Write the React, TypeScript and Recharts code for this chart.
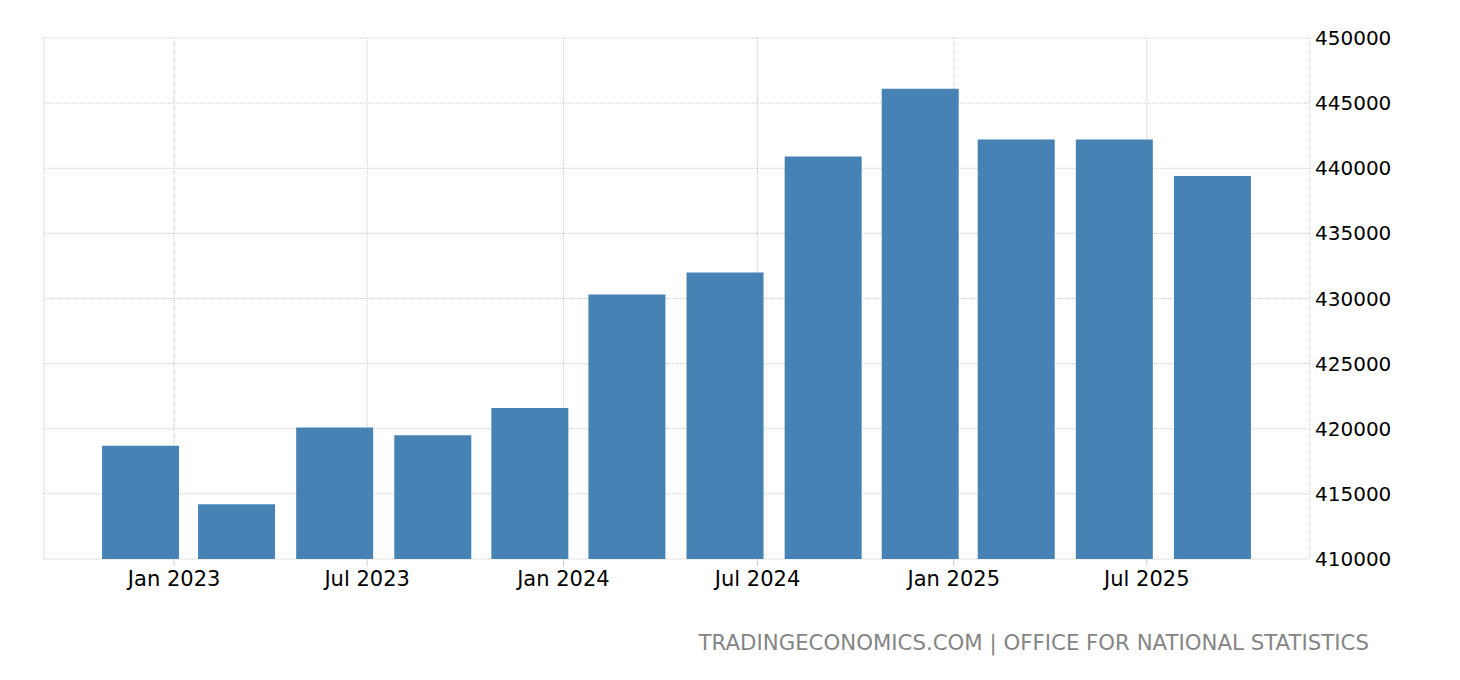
import React from 'react';
import { BarChart, Bar, XAxis, YAxis, CartesianGrid } from 'recharts';

const dates = [
  '2022-12-01', '2023-03-01', '2023-06-01', '2023-09-01',
  '2023-12-01', '2024-03-01', '2024-06-01', '2024-09-01',
  '2024-12-01', '2025-03-01', '2025-06-01', '2025-09-01',
];
const values = [
  418700, 414200, 420100, 419500,
  421600, 430300, 432000, 440900,
  446100, 442200, 442200, 439400,
];
const xTickDates = ['2023-01-01', '2023-07-01', '2024-01-01', '2024-07-01', '2025-01-01', '2025-07-01'];
const yTicks = [410000, 415000, 420000, 425000, 430000, 435000, 440000, 445000, 450000];
const xDomainDates = ['2022-09-01', '2025-12-01'];
const monthNames = ['Jan', 'Feb', 'Mar', 'Apr', 'May', 'Jun', 'Jul', 'Aug', 'Sep', 'Oct', 'Nov', 'Dec'];

const toTs = (s: string) => Date.parse(s + 'T00:00:00Z');

const data = dates.map((d, i) => ({ t: toTs(d), value: values[i] }));
const xTicks = xTickDates.map(toTs);
const xDomain = xDomainDates.map(toTs);

const fmtX = (t: number) => {
  const d = new Date(t);
  return `${monthNames[d.getUTCMonth()]} ${d.getUTCFullYear()}`;
};

const FONT = '"DejaVu Sans", Verdana, sans-serif';

export default function App() {
  return (
    <div style={{ position: 'relative', width: 1444, height: 664, fontFamily: FONT }}>
      <BarChart
        width={1444}
        height={664}
        data={data}
        margin={{ top: 30, right: 0, bottom: 0, left: 36 }}
      >
        <CartesianGrid stroke="#cccccc" strokeDasharray="1 1" />
        <XAxis
          dataKey="t"
          type="number"
          scale="time"
          domain={xDomain}
          ticks={xTicks}
          tickFormatter={fmtX}
          height={113}
          axisLine={false}
          tickLine={{ stroke: '#cccccc' }}
          tickSize={7}
          tickMargin={5}
          tick={{ fill: '#000000', fontSize: 21, fontFamily: FONT }}
          allowDataOverflow
        />
        <YAxis
          orientation="right"
          domain={[410000, 450000]}
          ticks={yTicks}
          width={142}
          axisLine={false}
          tickLine={false}
          tickSize={3}
          tickMargin={2}
          tick={{ fill: '#000000', fontSize: 20, fontFamily: FONT }}
          allowDataOverflow
        />
        <Bar dataKey="value" fill="#4682b4" barSize={77} isAnimationActive={false} />
      </BarChart>
      <div
        style={{
          position: 'absolute',
          right: 83,
          top: 624,
          fontSize: 21.3,
          lineHeight: '21px',
          color: '#858585',
          whiteSpace: 'nowrap',
          fontFamily: FONT,
        }}
      >
        TRADINGECONOMICS.COM | OFFICE FOR NATIONAL STATISTICS
      </div>
    </div>
  );
}
